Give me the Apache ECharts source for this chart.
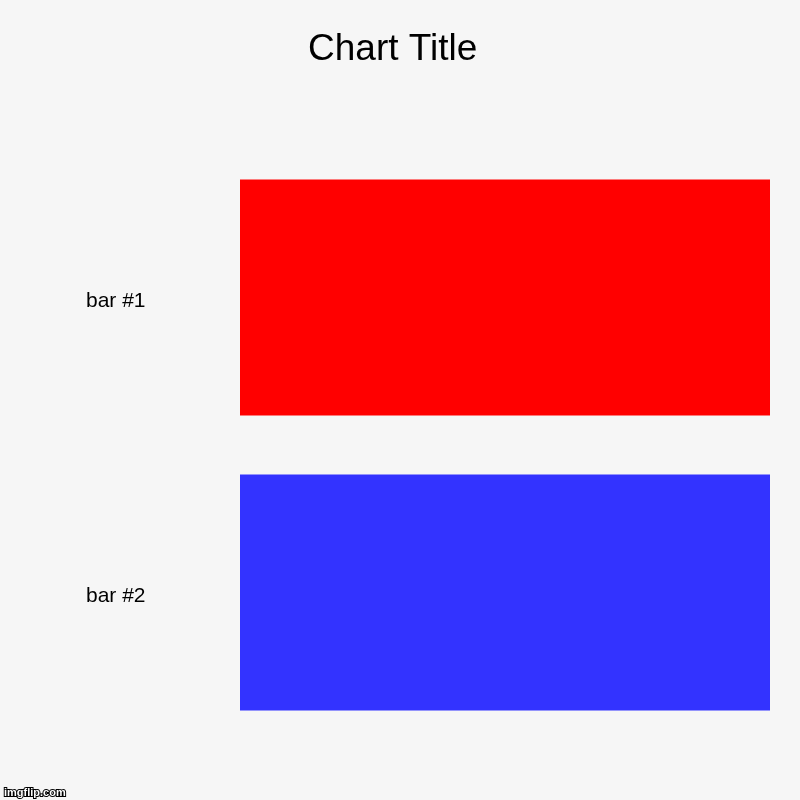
<!DOCTYPE html>
<html>
<head>
<meta charset="utf-8">
<script src="https://cdn.jsdelivr.net/npm/echarts@6/dist/echarts.min.js"></script>
<style>
html,body{margin:0;padding:0;background:#f6f6f6;}
#chart{width:800px;height:800px;}
</style>
</head>
<body>
<div id="chart"></div>
<script>
const categories = ['bar #1', 'bar #2'];
const values = [1, 1];
const barColors = ['#ff0000', '#3333ff'];

const chart = echarts.init(document.getElementById('chart'));
chart.setOption({
  backgroundColor: '#f6f6f6',
  animation: false,
  title: {
    text: 'Chart Title',
    left: 308,
    top: 31,
    padding: 0,
    textStyle: { fontFamily: 'Liberation Sans', fontSize: 37, fontWeight: 'normal', color: '#000' }
  },
  grid: { left: 240, right: 30, top: 150, bottom: 60, containLabel: false },
  xAxis: {
    type: 'value', min: 0, max: 1,
    show: false
  },
  yAxis: {
    type: 'category',
    inverse: true,
    data: categories,
    axisLine: { show: false },
    axisTick: { show: false },
    splitLine: { show: false },
    axisLabel: {
      align: 'left',
      margin: 154,
      formatter: '{a|{value}}',
      rich: {
        a: {
          padding: [7, 0, 0, 0],
          fontFamily: 'Liberation Sans',
          fontSize: 21,
          color: '#000'
        }
      },
      fontFamily: 'Liberation Sans',
      fontSize: 21,
      color: '#000'
    }
  },
  series: [{
    type: 'bar',
    barCategoryGap: '20%',
    data: values.map((v, i) => ({ value: v, itemStyle: { color: barColors[i] } }))
  }],
  graphic: [{
    type: 'text',
    left: 3,
    top: 786,
    style: {
      text: 'imgflip.com',
      fontFamily: 'Liberation Sans',
      fontSize: 11,
      fontWeight: 'bold',
      fill: '#fff',
      stroke: '#000',
      lineWidth: 2
    }
  }]
});
</script>
</body>
</html>
